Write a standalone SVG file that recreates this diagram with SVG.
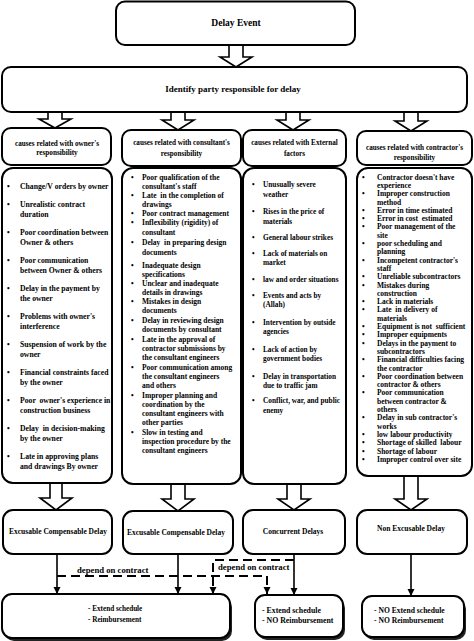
<svg xmlns="http://www.w3.org/2000/svg" width="474" height="641" viewBox="0 0 474 641">
<defs>
<style>
.box{fill:#fff;stroke:#000;stroke-width:2}
.shadow{fill:#222}
.blk{fill:#fff;stroke:#000;stroke-width:1.6;stroke-linejoin:miter}
.t{font-family:"Liberation Serif","Times New Roman",serif;font-weight:bold;fill:#000}
.c{text-anchor:middle}
.h{font-size:7.2px}
.i1{font-size:7.7px}
.i2{font-size:7.5px}
.i3{font-size:7.3px}
.i4{font-size:7.5px}
.r{font-size:7.5px}
.ln{fill:none;stroke:#000;stroke-width:1.6}
.dash{stroke-dasharray:9 5;stroke-width:2}
</style>
<marker id="ah" viewBox="0 0 10 10" refX="10" refY="5" markerWidth="7" markerHeight="8" markerUnits="userSpaceOnUse" orient="auto">
<path d="M0,0 L10,5 L0,10 Z" fill="#000"/>
</marker>
</defs>
<rect width="474" height="641" fill="#fff"/>

<g id="block-arrows">
<path class="blk" d="M229,45 V57 H220 L236,67 L252,57 H243 V45 Z"/>
<path class="blk" d="M48,112 V119 H39 L55,128 L71,119 H62 V112 Z"/>
<path class="blk" d="M171,112 V120 H162 L178,130 L194,120 H185 V112 Z"/>
<path class="blk" d="M286,112 V120 H277 L293,130 L309,120 H300 V112 Z"/>
<path class="blk" d="M404,112 V121 H395 L411,131 L427,121 H418 V112 Z"/>
<path class="blk" d="M50,483 V498 H40 L56,510 L72,498 H62 V483 Z"/>
<path class="blk" d="M171,484 V499 H162 L178,511 L194,499 H185 V484 Z"/>
<path class="blk" d="M287,484 V499 H278 L294,510 L310,499 H301 V484 Z"/>
<path class="blk" d="M404,476 V499 H395 L411,510 L427,499 H418 V476 Z"/>
</g>

<g id="delay-event">
<rect class="box" x="116" y="1.5" width="239" height="43.5" rx="9"/>
<text class="t c" x="236" y="26" font-size="9.5">Delay Event</text>
</g>

<g id="identify">
<rect class="box" x="2" y="67" width="465" height="45" rx="9"/>
<text class="t c" x="233" y="92" font-size="9">Identify party responsible for delay</text>
</g>

<g id="owner-header">
<rect class="box" x="2" y="128" width="109" height="37" rx="9"/>
<text class="t c h" x="57" y="145.5">causes related with owner's</text>
<text class="t c h" x="57" y="155">responsibility</text>
</g>
<g id="consultant-header">
<rect class="box" x="122" y="130" width="119" height="36" rx="9"/>
<text class="t c h" x="181.5" y="145">causes related with consultant's</text>
<text class="t c h" x="181.5" y="155.5">responsibility</text>
</g>
<g id="external-header">
<rect class="box" x="243" y="130" width="103" height="36" rx="9"/>
<text class="t c h" x="294.5" y="145">causes related with External</text>
<text class="t c h" x="294.5" y="155.5">factors</text>
</g>
<g id="contractor-header">
<rect class="box" x="357" y="131" width="115" height="34" rx="9"/>
<text class="t c h" x="414.5" y="150">causes related with contractor's</text>
<text class="t c h" x="414.5" y="160">responsibility</text>
</g>

<g id="owner-list">
<rect class="box" x="2" y="168" width="110" height="315" rx="11"/>
<g class="t i1">
<text x="7" y="188.6">•</text><text x="20" y="188.6">Change/V orders by owner</text>
<text x="7" y="206.6">•</text><text x="20" y="206.6">Unrealistic contract</text><text x="20" y="216.6">duration</text>
<text x="7" y="234.6">•</text><text x="20" y="234.6">Poor coordination between</text><text x="20" y="244.6">Owner &amp; others</text>
<text x="7" y="262.6">•</text><text x="20" y="262.6">Poor communication</text><text x="20" y="272.6">between Owner &amp; others</text>
<text x="7" y="290.6">•</text><text x="20" y="290.6">Delay in the payment by</text><text x="20" y="300.6">the owner</text>
<text x="7" y="318.6">•</text><text x="20" y="318.6">Problems with owner's</text><text x="20" y="328.6">interference</text>
<text x="7" y="346.6">•</text><text x="20" y="346.6">Suspension of work by the</text><text x="20" y="356.6">owner</text>
<text x="7" y="374.6">•</text><text x="20" y="374.6">Financial constraints faced</text><text x="20" y="384.6">by the owner</text>
<text x="7" y="402.6">•</text><text x="20" y="402.6" xml:space="preserve">Poor  owner's experience in</text><text x="20" y="412.6">construction business</text>
<text x="7" y="430.6">•</text><text x="20" y="430.6" xml:space="preserve">Delay  in decision-making</text><text x="20" y="440.6">by the owner</text>
<text x="7" y="458.6">•</text><text x="20" y="458.6">Late in approving plans</text><text x="20" y="468.6">and drawings By owner</text>
</g>
</g>

<g id="consultant-list">
<rect class="box" x="122" y="168" width="119" height="316" rx="11"/>
<g class="t i2">
<text x="131" y="179.6">•</text><text x="142" y="179.6">Poor qualification of the</text><text x="142" y="188.6">consultant's staff</text>
<text x="131" y="197.6">•</text><text x="142" y="197.6" xml:space="preserve">Late  in the completion of</text><text x="142" y="206.6">drawings</text>
<text x="131" y="215.6">•</text><text x="142" y="215.6">Poor contract management</text>
<text x="131" y="224.6">•</text><text x="142" y="224.6">Inflexibility (rigidity) of</text><text x="142" y="234.6">consultant</text>
<text x="131" y="244.6">•</text><text x="142" y="244.6" xml:space="preserve">Delay  in preparing design</text><text x="142" y="255">documents</text>
<text x="131" y="267.6">•</text><text x="142" y="267.6">Inadequate design</text><text x="142" y="276.6">specifications</text>
<text x="131" y="285.6">•</text><text x="142" y="285.6">Unclear and inadequate</text><text x="142" y="294.6">details in drawings</text>
<text x="131" y="304.1">•</text><text x="142" y="304.1">Mistakes in design</text><text x="142" y="312.8">documents</text>
<text x="131" y="322.6">•</text><text x="142" y="322.6">Delay in reviewing design</text><text x="142" y="331.6">documents by consultant</text>
<text x="131" y="341.6">•</text><text x="142" y="341.6">Late in the approval of</text><text x="142" y="350.6">contractor submissions by</text><text x="142" y="359.6">the consultant engineers</text>
<text x="131" y="369.6">•</text><text x="142" y="369.6">Poor communication among</text><text x="142" y="378.6">the consultant engineers</text><text x="142" y="387.6">and others</text>
<text x="131" y="397.6">•</text><text x="142" y="397.6">Improper planning and</text><text x="142" y="406.6">coordination by the</text><text x="142" y="415.6">consultant engineers with</text><text x="142" y="424.6">other parties</text>
<text x="131" y="434.6">•</text><text x="142" y="434.6">Slow in testing and</text><text x="142" y="443.6">inspection procedure by the</text><text x="142" y="452.6">consultant engineers</text>
</g>
</g>

<g id="external-list">
<rect class="box" x="243" y="168" width="103" height="316" rx="11"/>
<g class="t i3">
<text x="252" y="186.6">•</text><text x="263" y="186.6">Unusually severe</text><text x="263" y="196.6">weather</text>
<text x="252" y="213.6">•</text><text x="263" y="213.6">Rises in the price of</text><text x="263" y="223.6">materials</text>
<text x="252" y="239.6">•</text><text x="263" y="239.6">General labour strikes</text>
<text x="252" y="255.6">•</text><text x="263" y="255.6">Lack of materials on</text><text x="263" y="264.6">market</text>
<text x="252" y="281.6">•</text><text x="263" y="281.6">law and order situations</text>
<text x="252" y="297.6">•</text><text x="263" y="297.6">Events and acts by</text><text x="263" y="306.6">(Allah)</text>
<text x="252" y="324.6">•</text><text x="263" y="324.6">Intervention by outside</text><text x="263" y="333.6">agencies</text>
<text x="252" y="351.6">•</text><text x="263" y="351.6">Lack of action by</text><text x="263" y="360.6">government bodies</text>
<text x="252" y="378.6">•</text><text x="263" y="378.6">Delay in transportation</text><text x="263" y="387.6">due to traffic jam</text>
<text x="252" y="402.6">•</text><text x="263" y="402.6">Conflict, war, and public</text><text x="263" y="412.6">enemy</text>
</g>
</g>

<g id="contractor-list">
<rect class="box" x="357" y="168" width="115" height="308" rx="11"/>
<g class="t i4">
<text x="362" y="179.6">•</text><text x="377" y="179.6">Contractor doesn't have</text><text x="377" y="187.9">experience</text>
<text x="362" y="196.2">•</text><text x="377" y="196.2">Improper construction</text><text x="377" y="204.5">method</text>
<text x="362" y="212.8">•</text><text x="377" y="212.8">Error in time estimated</text>
<text x="362" y="221.1">•</text><text x="377" y="221.1" xml:space="preserve">Error in cost  estimated</text>
<text x="362" y="229.4">•</text><text x="377" y="229.4">Poor management of the</text><text x="377" y="237.7">site</text>
<text x="362" y="246">•</text><text x="377" y="246">poor scheduling and</text><text x="377" y="254.3">planning</text>
<text x="362" y="262.6">•</text><text x="377" y="262.6">Incompetent contractor's</text><text x="377" y="270.9">staff</text>
<text x="362" y="279.2">•</text><text x="377" y="279.2">Unreliable subcontractors</text>
<text x="362" y="287.5">•</text><text x="377" y="287.5">Mistakes during</text><text x="377" y="295.8">construction</text>
<text x="362" y="304.1">•</text><text x="377" y="304.1">Lack in materials</text>
<text x="362" y="312.4">•</text><text x="377" y="312.4" xml:space="preserve">Late  in delivery of</text><text x="377" y="320.7">materials</text>
<text x="362" y="329">•</text><text x="377" y="329" xml:space="preserve">Equipment is not  sufficient</text>
<text x="362" y="337.3">•</text><text x="377" y="337.3">Improper equipments</text>
<text x="362" y="345.6">•</text><text x="377" y="345.6">Delays in the payment to</text><text x="377" y="353.9">subcontractors</text>
<text x="362" y="362.2">•</text><text x="377" y="362.2">Financial difficulties facing</text><text x="377" y="370.5">the contractor</text>
<text x="362" y="378.8">•</text><text x="377" y="378.8">Poor coordination between</text><text x="377" y="387.1">contractor &amp; others</text>
<text x="362" y="395.4">•</text><text x="377" y="395.4">Poor communication</text><text x="377" y="403.7">between contractor &amp;</text><text x="377" y="412">others</text>
<text x="362" y="420.3">•</text><text x="377" y="420.3">Delay in sub contractor's</text><text x="377" y="428.6">works</text>
<text x="362" y="436.9">•</text><text x="377" y="436.9">low labour productivity</text>
<text x="362" y="445.2">•</text><text x="377" y="445.2" xml:space="preserve">Shortage of skilled  labour</text>
<text x="362" y="453.5">•</text><text x="377" y="453.5">Shortage of labour</text>
<text x="362" y="461.8">•</text><text x="377" y="461.8">Improper control over site</text>
</g>
</g>

<g id="excusable-compensable-1">
<rect class="box" x="3" y="510" width="109" height="44" rx="10"/>
<text class="t c r" x="58" y="533.5">Excusable Compensable Delay</text>
</g>
<g id="excusable-compensable-2">
<rect class="box" x="123" y="511" width="110" height="43" rx="10"/>
<text class="t c r" x="176" y="534.5">Excusable Compensable Delay</text>
</g>
<g id="concurrent">
<rect class="box" x="243" y="510" width="102" height="44" rx="10"/>
<text class="t c r" x="293" y="533.5">Concurrent Delays</text>
</g>
<g id="non-excusable">
<rect class="box" x="357" y="510" width="110" height="44" rx="10"/>
<text class="t c r" x="411" y="531">Non Excusable Delay</text>
</g>

<g id="connectors">
<path class="ln" d="M57,554 V594" marker-end="url(#ah)"/>
<path class="ln" d="M178,554 V594" marker-end="url(#ah)"/>
<path class="ln" d="M294,554 V595" marker-end="url(#ah)"/>
<path class="ln" d="M411,554 V596" marker-end="url(#ah)"/>
<path class="ln dash" d="M57,576 H267 V594" marker-end="url(#ah)"/>
<path class="ln dash" d="M294,560 H213 V594" marker-end="url(#ah)"/>
<text class="t" x="77" y="573" font-size="8.7">depend on contract</text>
<text class="t" x="218" y="570" font-size="8.7">depend on contract</text>
</g>

<g id="outcome-extend-reimburse">
<rect class="shadow" x="4" y="597" width="228" height="44" rx="10"/>
<rect class="box" x="2" y="594" width="228" height="44" rx="10"/>
<text class="t" x="88" y="610.5" font-size="7.2">- Extend schedule</text>
<text class="t" x="88" y="621.5" font-size="7.2">- Reimbursement</text>
</g>
<g id="outcome-extend-noreimburse">
<rect class="shadow" x="257" y="598" width="88" height="42" rx="10"/>
<rect class="box" x="255" y="595" width="88" height="42" rx="10"/>
<text class="t" x="262" y="612.5" font-size="7.8">- Extend schedule</text>
<text class="t" x="262" y="622.5" font-size="7.8">- NO Reimbursement</text>
</g>
<g id="outcome-noextend-noreimburse">
<rect class="shadow" x="364" y="599" width="102" height="41" rx="10"/>
<rect class="box" x="362" y="596" width="102" height="41" rx="10"/>
<text class="t" x="374" y="612.5" font-size="7.6">- NO Extend schedule</text>
<text class="t" x="374" y="622.5" font-size="7.6">- NO Reimbursement</text>
</g>
</svg>
